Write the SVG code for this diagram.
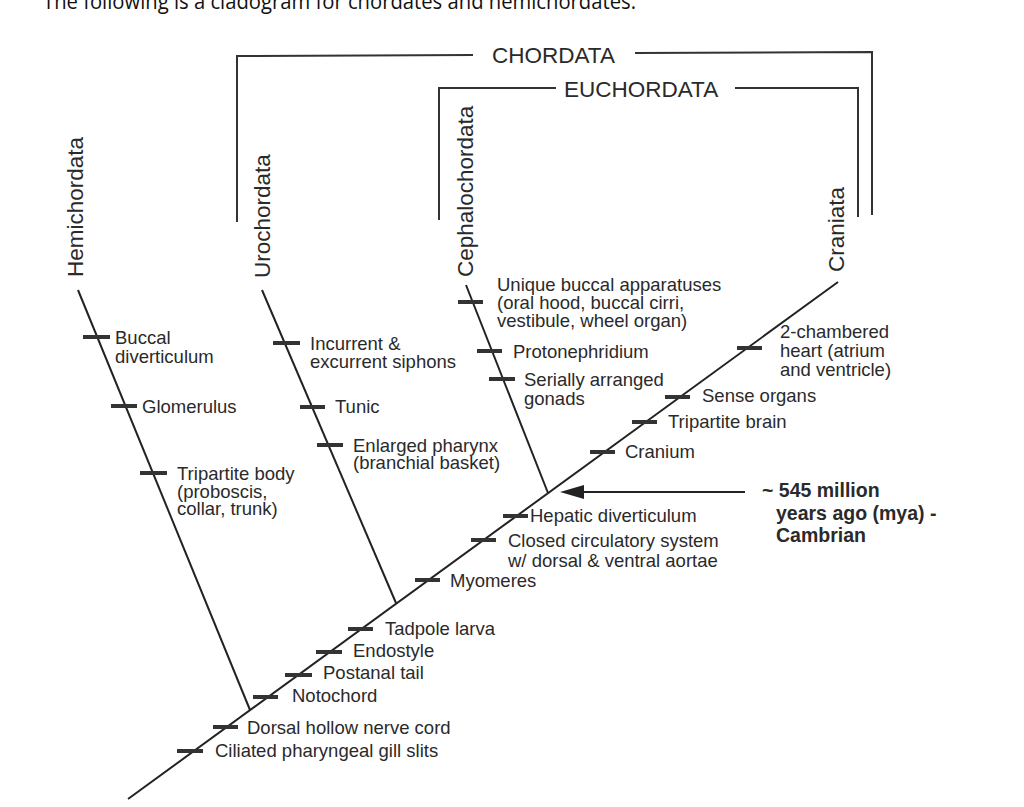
<svg xmlns="http://www.w3.org/2000/svg" width="1024" height="807" viewBox="0 0 1024 807">
<style>
.t{font-family:"Liberation Sans",Arial,sans-serif;font-size:18.5px;fill:#2a2a2a}
.big{font-family:"Liberation Sans",Arial,sans-serif;font-size:22.5px;fill:#2a2a2a}
.bold{font-family:"Liberation Sans",Arial,sans-serif;font-size:19.5px;font-weight:bold;fill:#2a2a2a}
.title{font-family:"Open Sans","Liberation Sans",sans-serif;font-size:22px;fill:#111}
.ln{stroke:#222;stroke-width:2;fill:none}
.br{stroke:#333;stroke-width:2;fill:none}
.tk{stroke:#333;stroke-width:4}
</style>
<rect width="1024" height="807" fill="#fff"/>
<text class="title" x="43" y="9" textLength="593" lengthAdjust="spacingAndGlyphs">The following is a cladogram for chordates and hemichordates.</text>

<g id="connectors">
  <line class="ln" x1="128" y1="799" x2="838" y2="282"/>
  <line class="ln" x1="78" y1="290" x2="250" y2="710"/>
  <line class="ln" x1="262" y1="290" x2="396" y2="603"/>
  <line class="ln" x1="466" y1="285" x2="548" y2="493"/>
  <line class="ln" x1="745" y1="492" x2="580" y2="492"/>
  <polygon points="560,492 584,485 584,499" fill="#222"/>
</g>

<g id="chordata">
  <polyline class="br" points="237,222 237,56 473,55"/>
  <polyline class="br" points="635,53 872,52 872,215"/>
  <text class="big" x="492" y="63">CHORDATA</text>
</g>
<g id="euchordata">
  <polyline class="br" points="439,220 439,88 556,88"/>
  <polyline class="br" points="735,88 858,88 858,217"/>
  <text class="big" x="564" y="97">EUCHORDATA</text>
</g>

<g id="hemichordata">
  <text class="big" transform="translate(83,277) rotate(-90)">Hemichordata</text>
  <line class="tk" x1="83" y1="337" x2="110" y2="337"/>
  <line class="tk" x1="111" y1="406" x2="137" y2="406"/>
  <line class="tk" x1="140" y1="473" x2="167" y2="473"/>
  <text class="t" x="115" y="344">Buccal</text>
  <text class="t" x="115" y="363">diverticulum</text>
  <text class="t" x="142" y="413">Glomerulus</text>
  <text class="t" x="177" y="480">Tripartite body</text>
  <text class="t" x="177" y="498">(proboscis,</text>
  <text class="t" x="177" y="515">collar, trunk)</text>
</g>

<g id="urochordata">
  <text class="big" transform="translate(270,278) rotate(-90)">Urochordata</text>
  <line class="tk" x1="273" y1="343" x2="300" y2="343"/>
  <line class="tk" x1="300" y1="407" x2="325" y2="407"/>
  <line class="tk" x1="317" y1="445" x2="343" y2="445"/>
  <text class="t" x="310" y="350">Incurrent &amp;</text>
  <text class="t" x="310" y="368">excurrent siphons</text>
  <text class="t" x="335" y="413">Tunic</text>
  <text class="t" x="353" y="452">Enlarged pharynx</text>
  <text class="t" x="353" y="469">(branchial basket)</text>
</g>

<g id="cephalochordata">
  <text class="big" transform="translate(473,277) rotate(-90)">Cephalochordata</text>
  <line class="tk" x1="458" y1="302" x2="483" y2="302"/>
  <line class="tk" x1="477" y1="351" x2="502" y2="351"/>
  <line class="tk" x1="489" y1="379" x2="515" y2="379"/>
  <text class="t" x="497" y="291">Unique buccal apparatuses</text>
  <text class="t" x="497" y="309">(oral hood, buccal cirri,</text>
  <text class="t" x="497" y="327">vestibule, wheel organ)</text>
  <text class="t" x="513" y="358">Protonephridium</text>
  <text class="t" x="524" y="386">Serially arranged</text>
  <text class="t" x="524" y="405">gonads</text>
</g>

<g id="craniata">
  <text class="big" transform="translate(844,272) rotate(-90)">Craniata</text>
  <line class="tk" x1="737" y1="348" x2="762" y2="348"/>
  <line class="tk" x1="665" y1="397" x2="690" y2="397"/>
  <line class="tk" x1="632" y1="422" x2="657" y2="422"/>
  <line class="tk" x1="590" y1="452" x2="615" y2="452"/>
  <text class="t" x="780" y="338">2-chambered</text>
  <text class="t" x="780" y="357">heart (atrium</text>
  <text class="t" x="780" y="376">and ventricle)</text>
  <text class="t" x="702" y="402">Sense organs</text>
  <text class="t" x="668" y="428">Tripartite brain</text>
  <text class="t" x="625" y="458">Cranium</text>
</g>

<g id="timing">
  <text class="bold" x="762" y="497">~ 545 million</text>
  <text class="bold" x="776" y="520">years ago (mya) -</text>
  <text class="bold" x="776" y="542">Cambrian</text>
</g>

<g id="trunk">
  <line class="tk" x1="503" y1="516" x2="528" y2="516"/>
  <line class="tk" x1="471" y1="540" x2="496" y2="540"/>
  <line class="tk" x1="415" y1="580" x2="440" y2="580"/>
  <line class="tk" x1="348" y1="629" x2="373" y2="629"/>
  <line class="tk" x1="316" y1="652" x2="342" y2="652"/>
  <line class="tk" x1="285" y1="675" x2="312" y2="675"/>
  <line class="tk" x1="253" y1="697" x2="278" y2="697"/>
  <line class="tk" x1="213" y1="727" x2="238" y2="727"/>
  <line class="tk" x1="177" y1="751" x2="203" y2="751"/>
  <text class="t" x="530" y="522">Hepatic diverticulum</text>
  <text class="t" x="508" y="547">Closed circulatory system</text>
  <text class="t" x="508" y="567">w/ dorsal &amp; ventral aortae</text>
  <text class="t" x="450" y="587">Myomeres</text>
  <text class="t" x="385" y="635">Tadpole larva</text>
  <text class="t" x="353" y="657">Endostyle</text>
  <text class="t" x="323" y="679">Postanal tail</text>
  <text class="t" x="292" y="702">Notochord</text>
  <text class="t" x="247" y="734">Dorsal hollow nerve cord</text>
  <text class="t" x="215" y="757">Ciliated pharyngeal gill slits</text>
</g>
</svg>
